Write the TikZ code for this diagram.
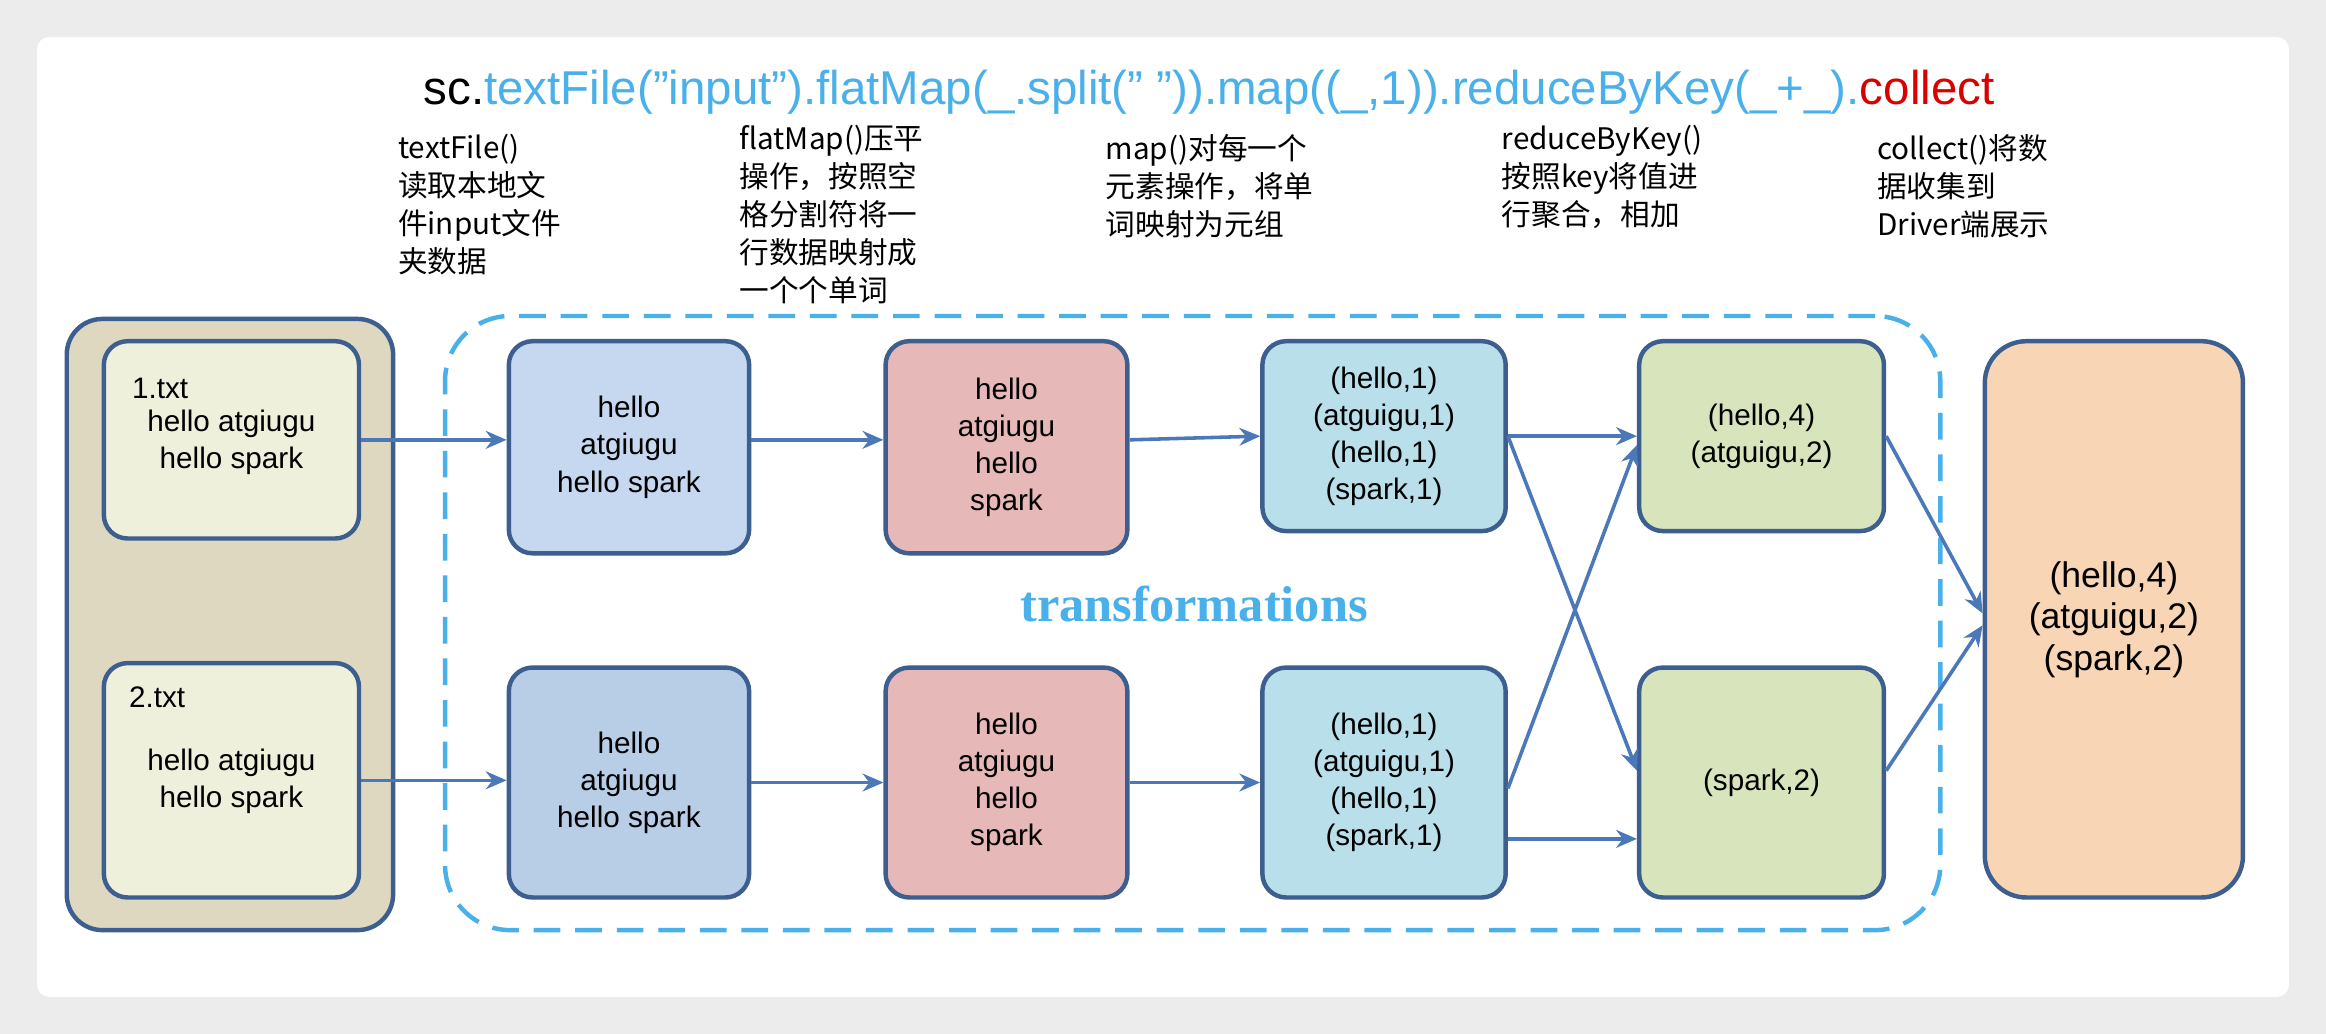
\documentclass[tikz,border=0pt]{standalone}
\usepackage{fontspec}
\setmainfont{Liberation Sans}
\newfontfamily\cjk{Noto Sans CJK SC}
\newfontfamily\tms{Liberation Serif}
\usetikzlibrary{arrows.meta}
\definecolor{bd}{HTML}{3D5F8F}
\definecolor{ar}{HTML}{4A78B8}
\definecolor{dsh}{HTML}{4AB0EA}
\begin{document}
\begin{tikzpicture}[x=0.5pt,y=-0.5pt,
  bx/.style 2 args={draw=bd,line width=1.5pt,rounded corners=8pt,minimum width=#1*0.5pt,minimum height=#2*0.5pt,inner sep=0pt},
  tx/.style={align=center,font=\fontsize{10}{12.5}\selectfont},
  ann/.style={align=left,anchor=north west,inner sep=0pt,font=\cjk\fontsize{10}{12.8}\selectfont},
  arr/.style={draw=ar,line width=1.2pt,-{Stealth[length=7pt,width=6pt]}}]
\useasboundingbox (0,0) rectangle (1568,697);
\fill[gray!15] (0,0) rectangle (1568,697);
\fill[white,rounded corners=4pt] (25,25) rectangle (1543,672);
\node[font=\fontsize{16}{18}\selectfont] (title) at (815,62) {sc.\textcolor{dsh}{textFile("input").flatMap(\_.split(" ")).map((\_,1)).reduceByKey(\_+\_).}\textcolor{red!85!black}{collect}};
\node[ann] (n1) at (268,90) {textFile()\\读取本地文\\件input文件\\夹数据};
\node[ann] (n2) at (498,84) {flatMap()压平\\操作，按照空\\格分割符将一\\行数据映射成\\一个个单词};
\node[ann] (n3) at (745,90) {map()对每一个\\元素操作，将单\\词映射为元组};
\node[ann] (n4) at (1012,84) {reduceByKey()\\按照key将值进\\行聚合，相加};
\node[ann] (n5) at (1265,90) {collect()将数\\据收集到\\Driver端展示};
\node[draw=dsh,line width=1.5pt,dash pattern=on 9pt off 5pt,rounded corners=22pt,minimum width=1008*0.5pt,minimum height=414*0.5pt] (tr) at (804,420) {};
\node[bx={220}{412},fill={rgb,255:red,222;green,216;blue,192},rounded corners=12pt] (cont) at (155,421) {};
\node[bx={172}{133},fill={rgb,255:red,238;green,240;blue,220}] (t1) at (156,296.5) {};
\node[bx={172}{158},fill={rgb,255:red,238;green,240;blue,220}] (t2) at (156,526) {};
\node[tx,anchor=west] (l1) at (82,262) {1.txt};
\node[tx] (x1) at (156,298) {hello atgiugu\\hello spark};
\node[tx,anchor=west] (l2) at (80,470) {2.txt};
\node[tx] (x2) at (156,527) {hello atgiugu\\hello spark};
\node[bx={162}{143},fill={rgb,255:red,197;green,216;blue,240},tx] (c1a) at (424,301.5) {hello\\atgiugu\\hello spark};
\node[bx={162}{155},fill={rgb,255:red,184;green,205;blue,230},tx] (c1b) at (424,527.5) {hello\\atgiugu\\hello spark};
\node[bx={163}{143},fill={rgb,255:red,230;green,184;blue,184},tx] (c2a) at (678.5,301.5) {hello\\atgiugu\\hello\\spark};
\node[bx={163}{155},fill={rgb,255:red,230;green,184;blue,184},tx] (c2b) at (678.5,527.5) {hello\\atgiugu\\hello\\spark};
\node[bx={164}{128},fill={rgb,255:red,184;green,223;blue,234},tx] (c3a) at (933,294) {(hello,1)\\(atguigu,1)\\(hello,1)\\(spark,1)};
\node[bx={164}{155},fill={rgb,255:red,184;green,223;blue,234},tx] (c3b) at (933,527.5) {(hello,1)\\(atguigu,1)\\(hello,1)\\(spark,1)};
\node[bx={165}{128},fill={rgb,255:red,216;green,228;blue,188},tx] (c4a) at (1187.5,294) {(hello,4)\\(atguigu,2)};
\node[bx={165}{155},fill={rgb,255:red,216;green,228;blue,188},tx] (c4b) at (1187.5,527.5) {(spark,2)};
\node[bx={174}{375},fill={rgb,255:red,248;green,213;blue,180},rounded corners=14pt,align=center,font=\fontsize{12}{14}\selectfont] (fin) at (1425,417.5) {(hello,4)\\(atguigu,2)\\(spark,2)};
\node[font=\tms\bfseries\fontsize{17}{20}\selectfont,text=dsh] (tf) at (805,407) {transformations};
\draw[arr] (t1.east) -- (c1a.west|-t1.east);
\draw[arr] (t2.east) -- (c1b.west|-t2.east);
\draw[arr] ([yshift=2.5pt]c1a.east) -- ([yshift=2.5pt]c2a.west);
\draw[arr] (c1b.east) -- (c2b.west);
\draw[arr] ([yshift=2.5pt]c2a.east) -- (c3a.west);
\draw[arr] (c2b.east) -- (c3b.west);
\draw[arr] (c3a.east) -- (c4a.west);
\draw[arr] (c3a.east) -- ([yshift=4pt]c4b.west);
\draw[arr] ([yshift=-2pt]c3b.east) -- ([yshift=-3pt]c4a.west);
\draw[arr] ([yshift=-19pt]c3b.east) -- ([yshift=-19pt]c4b.west);
\draw[arr] (c4a.east) -- ([yshift=2pt]fin.west);
\draw[arr] ([yshift=4pt]c4b.east) -- ([yshift=-2pt]fin.west);
\end{tikzpicture}
\end{document}
